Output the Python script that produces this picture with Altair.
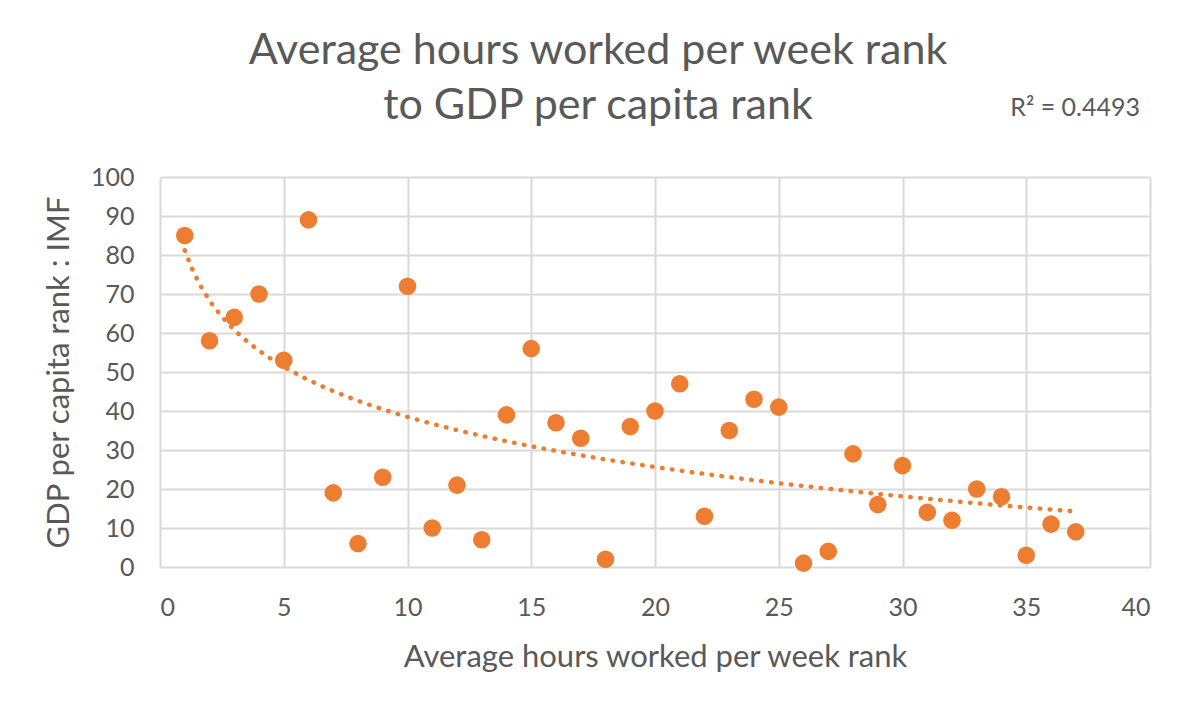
import altair as alt
import pandas as pd

hours_rank = list(range(1, 38))
gdp_rank = [85, 58, 64, 70, 53, 89, 19, 6, 23, 72, 10, 21, 7, 39, 56, 37, 33, 2, 36, 40,
            47, 13, 35, 43, 41, 1, 4, 29, 16, 26, 14, 12, 20, 18, 3, 11, 9]
r2_label = "R² = 0.4493"

df = pd.DataFrame({"x": hours_rank, "y": gdp_rank})

FONT = "Lato"
GRAY = "#595959"
ORANGE = "#ED7D31"

base = alt.Chart(df)

x_enc = alt.X("x:Q", scale=alt.Scale(domain=[0, 40], nice=False),
              axis=alt.Axis(values=list(range(0, 41, 5)), title="Average hours worked per week rank",
                            titlePadding=22, labelOverlap=False))
y_enc = alt.Y("y:Q", scale=alt.Scale(domain=[0, 100], nice=False),
              axis=alt.Axis(values=list(range(0, 101, 10)), title="GDP per capita rank : IMF",
                            titlePadding=15, labelOverlap=False))

points = base.mark_circle(size=310, opacity=1, color=ORANGE).encode(x=x_enc, y=y_enc)

trend = base.transform_regression("x", "y", method="log", extent=[1, 37]).mark_line(
    color=ORANGE, strokeWidth=4.5, strokeDash=[0.5, 9.5], strokeCap="round"
).encode(x=x_enc, y=y_enc)

r2 = alt.Chart(pd.DataFrame({"t": [r2_label]})).mark_text(
    font=FONT, fontSize=25, color=GRAY, align="right", baseline="middle"
).encode(text="t:N", x=alt.value(980), y=alt.value(-69))

chart = alt.layer(points, trend, r2).properties(
    width=990, height=390,
    autosize=alt.AutoSizeParams(type="none"),
    padding={"left": 152, "top": 169, "right": 42, "bottom": 136},
    title=alt.TitleParams(
        text=["Average hours worked per week rank", "to GDP per capita rank"],
        font=FONT, fontSize=43, fontWeight="normal", color=GRAY,
        anchor="middle", dx=-57, offset=-32, lineHeight=55,
    ),
).configure_view(stroke=None).configure_axis(
    grid=True, gridColor="#d9d9d9", gridWidth=2,
    domain=False, ticks=False, labelOverlap=False,
    labelFont=FONT, labelFontSize=25, labelColor=GRAY,
    titleFont=FONT, titleFontSize=31, titleColor=GRAY, titleFontWeight="normal",
).configure_axisX(labelPadding=28).configure_axisY(labelPadding=26)

chart.save("out.html", embed_options={"renderer": "svg", "actions": False})
